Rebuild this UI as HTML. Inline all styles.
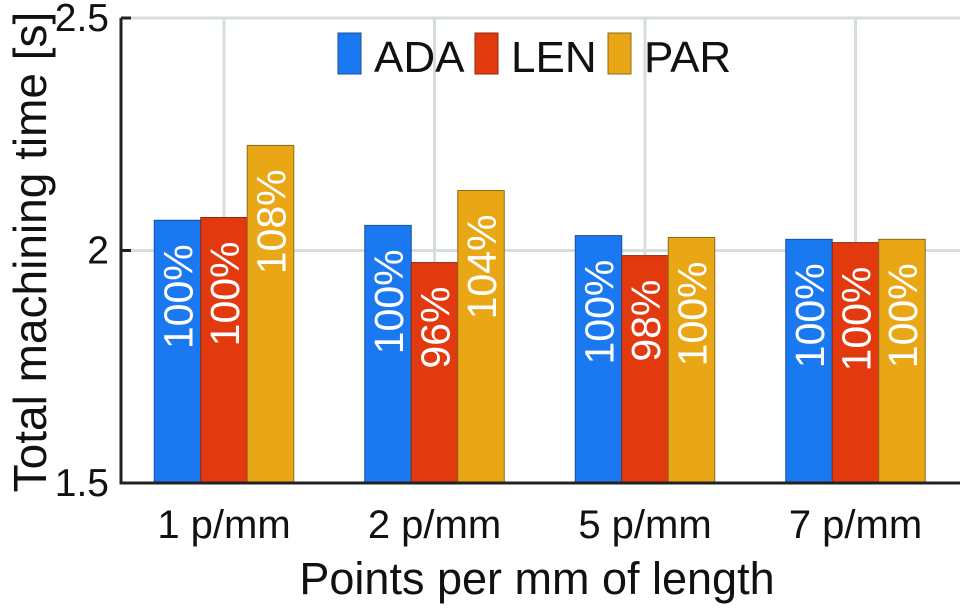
<!DOCTYPE html>
<html><head><meta charset="utf-8"><style>
html,body{margin:0;padding:0;background:#fff;}
svg{display:block;font-family:"Liberation Sans",Arial,sans-serif;}
</style></head><body>
<svg id="chart" width="967" height="608"></svg>
<script>
const categories=["1 p/mm","2 p/mm","5 p/mm","7 p/mm"];
const seriesNames=["ADA","LEN","PAR"];
const adaValues=[2.065,2.054,2.032,2.024];
const lenValues=[2.071,1.974,1.989,2.017];
const parValues=[2.226,2.129,2.028,2.024];
const adaLabels=["100%","100%","100%","100%"];
const lenLabels=["100%","96%","98%","100%"];
const parLabels=["108%","104%","100%","100%"];
const yTicks=[1.5,2,2.5];
const yTickLabels=["1.5","2","2.5"];

const colors=["#1a78f0","#e23a0e","#e9a715"];
const strokes=["#1a4f9a","#8a2a10","#8a6a20"];
const NS="http://www.w3.org/2000/svg";
const svg=document.getElementById('chart');
const x0=121,x1=960,yTop=18,yBot=483,yMin=1.5,yMax=2.5;
const yS=v=>yBot-(v-yMin)/(yMax-yMin)*(yBot-yTop);
const groupW=210.5,firstC=224;
const xC=i=>firstC+i*groupW;
const barW=46.5;
function mk(t,a){const e=document.createElementNS(NS,t);for(const k in a)e.setAttribute(k,a[k]);svg.appendChild(e);return e;}

categories.forEach((c,i)=>{
 const g=mk('line',{x1:xC(i),x2:xC(i),y1:yTop,y2:yBot,stroke:'#d6dedc','stroke-width':3});
 
 
});
yTicks.forEach(v=>{
 const g=mk('line',{x1:x0,x2:x1,y1:yS(v),y2:yS(v),stroke:'#d6dedc','stroke-width':3});
 
 
});

const allVals=[adaValues,lenValues,parValues];
const allLabels=[adaLabels,lenLabels,parLabels];
categories.forEach((c,i)=>{
 allVals.forEach((vals,s)=>{
  const x=xC(i)+(s-1.5)*barW;
  const y=yS(vals[i]);
  const r=mk('rect',{x:x,y:y,width:barW,height:yBot-y,fill:colors[s],stroke:strokes[s],'stroke-width':1});
  
  
  const tx=x+barW/2+15, ty=y+24;
  const t=mk('text',{x:tx,y:ty,fill:'#fff','font-size':41,'text-anchor':'end',transform:`rotate(-90 ${tx} ${ty})`});
  t.textContent=allLabels[s][i];
  
  
 });
 const xl=mk('text',{x:xC(i),y:538,'font-size':40,'text-anchor':'middle',fill:'#111'});
 xl.textContent=c;
 
 
});

const ax=mk('line',{x1:x0,x2:x0,y1:yTop,y2:yBot+1.5,stroke:'#222','stroke-width':3});


const bx=mk('line',{x1:x0,x2:x1,y1:yBot,y2:yBot,stroke:'#222','stroke-width':3});


yTicks.forEach((v,k)=>{
 const tk=mk('line',{x1:x0,x2:x0+10,y1:yS(v),y2:yS(v),stroke:'#222','stroke-width':3});
 
 
 const tl=mk('text',{x:109,y:yS(v)+13,'font-size':39,'text-anchor':'end',fill:'#111'});
 tl.textContent=yTickLabels[k];
 
 
});

const legX=[338,475,608];
seriesNames.forEach((n,s)=>{
 const r=mk('rect',{x:legX[s],y:33,width:23,height:41,fill:colors[s],stroke:strokes[s],'stroke-width':1});
 
 
 const t=mk('text',{x:legX[s]+36,y:72,'font-size':44,fill:'#111'});
 t.textContent=n;
 
 
});

const xt=mk('text',{x:537,y:594,'font-size':45,'text-anchor':'middle',fill:'#111'});
xt.textContent='Points per mm of length';


const yt=mk('text',{x:0,y:0,'font-size':46,'text-anchor':'middle',fill:'#111',transform:'translate(46 252) rotate(-90)'});
yt.textContent='Total machining time [s]';


</script>
</body></html>
